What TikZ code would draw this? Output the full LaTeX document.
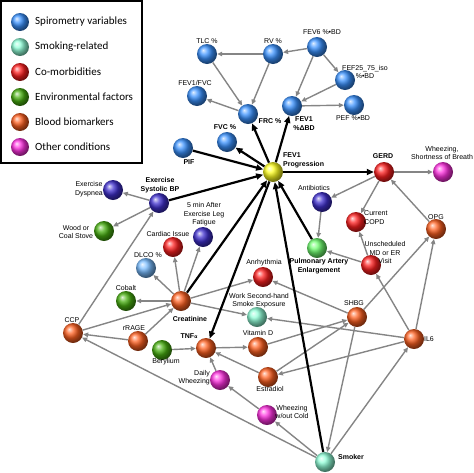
\documentclass[tikz,border=0pt]{standalone}
\usepackage{fontspec}
\setmainfont{Liberation Sans}
\newfontfamily\legfont{Carlito}
\usetikzlibrary{arrows.meta}

\definecolor{spiro}{HTML}{3A92FF}
\definecolor{smokec}{HTML}{90FFD8}
\definecolor{comorb}{HTML}{FF2020}
\definecolor{envir}{HTML}{48B010}
\definecolor{blood}{HTML}{FF6020}
\definecolor{other}{HTML}{FF30E0}
\definecolor{exer}{HTML}{4030D0}
\definecolor{progc}{HTML}{FFFF20}
\definecolor{pulm}{HTML}{70FF70}
\definecolor{dlcoc}{HTML}{78BCFF}
\definecolor{midgray}{HTML}{858585}

\begin{document}
\begin{tikzpicture}[x=1pt,y=-1pt,
  ball/.style={circle,minimum size=20pt,inner sep=0pt,ball color=#1},
  legball/.style={circle,minimum size=18pt,inner sep=0pt,ball color=#1},
  lab/.style={font=\fontsize{7}{8.5}\selectfont,align=center,inner sep=0pt},
  blab/.style={lab,font=\fontsize{7}{8.5}\selectfont\bfseries},
  legtext/.style={font=\legfont\fontsize{11}{13}\selectfont,anchor=west,inner sep=0pt},
  grayedge/.style={draw=midgray,line width=1.4pt,-{Triangle[length=5pt,width=4.5pt]}},
  blackedge/.style={draw=black,line width=2.2pt,-{Triangle[length=7pt,width=6pt]}}]
 \useasboundingbox (0,0) rectangle (474,472);

 % legend
 \draw[line width=1.6pt] (1,1) rectangle (142,163);
 \foreach \c/\t [count=\i] in {spiro/Spirometry variables, smokec/Smoking-related,
     comorb/Co-morbidities, envir/Environmental factors, blood/Blood biomarkers,
     other/Other conditions}
   {\node[legball=\c] (leg\i) at (20,{22+25*(\i-1)}) {};
    \node[legtext] (legt\i) at (35,{22+25*(\i-1)}) {\t};}

 % spirometry
 \node[ball=spiro] (tlc) at (207,54) {};
 \node[lab] (tlct) at (207,41) {TLC \%};
 \node[ball=spiro] (rv) at (273,54) {};
 \node[lab] (rvt) at (273,41) {RV \%};
 \node[ball=spiro] (fevsix) at (317,47) {};
 \node[lab] (fevsixt) at (322,32) {FEV6 \%•BD};
 \node[ball=spiro] (fef) at (345,80) {};
 \node[lab] (feft) at (365,72) {FEF25\_75\_iso\\\%•BD};
 \node[ball=spiro] (pef) at (354,105) {};
 \node[lab] (peft) at (353,118) {PEF \%•BD};
 \node[ball=spiro] (fevfvc) at (197,96) {};
 \node[lab] (fevfvct) at (195,83) {FEV1/FVC};
 \node[ball=spiro] (frc) at (248,114) {};
 \node[blab] (frct) at (270,121) {FRC \%};
 \node[ball=spiro] (fevbd) at (292,106) {};
 \node[blab] (fevbdt) at (304,123.5) {FEV1\\\%ΔBD};
 \node[ball=spiro] (fvc) at (227,142) {};
 \node[blab] (fvct) at (225,127) {FVC \%};
 \node[ball=spiro] (pif) at (183,148) {};
 \node[blab] (pift) at (189,162) {PIF};
 \node[ball=dlcoc] (dlco) at (146,268) {};
 \node[lab] (dlcot) at (148,255) {DLCO \%};

 % outcome
 \node[ball=progc] (prog) at (273,172) {};
 \node[blab,align=left,anchor=west] (progt) at (283,160.5) {FEV1\\Progression};

 % co-morbidities and others
 \node[ball=comorb] (gerd) at (384,172) {};
 \node[blab] (gerdt) at (383,156) {GERD};
 \node[ball=other] (wsob) at (443,172) {};
 \node[lab] (wsobt) at (442,153) {Wheezing,\\Shortness of Breath};
 \node[ball=exer] (anti) at (322,202) {};
 \node[lab] (antit) at (314,188) {Antibiotics};
 \node[ball=comorb] (copd) at (356,222) {};
 \node[lab,align=left,anchor=west] (copdt) at (364,217.5) {Current\\COPD};
 \node[ball=comorb] (unsch) at (371,265) {};
 \node[lab] (unscht) at (385,252.5) {Unscheduled\\MD or ER\\Visit};
 \node[ball=pulm] (pae) at (317,248) {};
 \node[blab] (paet) at (319,266) {Pulmonary Artery\\Enlargement};
 \node[ball=exer] (sysbp) at (159,203) {};
 \node[blab] (sysbpt) at (160,185) {Exercise\\Systolic BP};
 \node[ball=exer] (dysp) at (113,190) {};
 \node[lab] (dyspt) at (89,189) {Exercise\\Dyspnea};
 \node[ball=envir] (wood) at (104,231) {};
 \node[lab] (woodt) at (76,232) {Wood or\\Coal Stove};
 \node[ball=exer] (fatig) at (203,237) {};
 \node[lab] (fatigt) at (204,214.5) {5 min After\\Exercise Leg\\Fatigue};
 \node[ball=comorb] (cardiac) at (173,247) {};
 \node[lab] (cardiact) at (168,234) {Cardiac Issue};
 \node[ball=comorb] (anrh) at (263,277) {};
 \node[lab] (anrht) at (264,263) {Anrhythmia};
 \node[ball=smokec] (wse) at (257,317) {};
 \node[lab] (wset) at (259,300.5) {Work Second-hand\\Smoke Exposure};
 \node[ball=other] (daily) at (220,380) {};
 \node[lab,align=right,anchor=east] (dailyt) at (210,377.5) {Daily\\Wheezing};
 \node[ball=other] (wwc) at (267,415) {};
 \node[lab] (wwct) at (292,412) {Wheezing\\w/out Cold};
 \node[ball=smokec] (smoker) at (325,462) {};
 \node[blab] (smokert) at (351,457) {Smoker};

 % environment and biomarkers
 \node[ball=envir] (cobalt) at (126,301) {};
 \node[lab] (cobaltt) at (126,288) {Cobalt};
 \node[ball=envir] (beryl) at (162,350) {};
 \node[lab] (berylt) at (166,362) {Berylium};
 \node[ball=blood] (creat) at (181,301) {};
 \node[blab] (creatt) at (190,319) {Creatinine};
 \node[ball=blood] (rrage) at (138,341) {};
 \node[lab] (rraget) at (134,328) {rRAGE};
 \node[ball=blood] (ccp) at (73,333) {};
 \node[lab] (ccpt) at (72,320) {CCP};
 \node[ball=blood] (tnf) at (206,348) {};
 \node[blab] (tnft) at (189,336) {TNF{\fontsize{5}{6}\selectfont α}};
 \node[ball=blood] (vitd) at (258,347) {};
 \node[lab] (vitdt) at (258,333) {Vitamin D};
 \node[ball=blood] (estr) at (268,377) {};
 \node[lab] (estrt) at (270,389) {Estradiol};
 \node[ball=blood] (shbg) at (357,317) {};
 \node[lab] (shbgt) at (354,303) {SHBG};
 \node[ball=blood] (il) at (414,339) {};
 \node[lab] (ilt) at (429,339) {IL6};
 \node[ball=blood] (opg) at (436,229) {};
 \node[lab] (opgt) at (436,217) {OPG};

 % connectors
 \foreach \a/\b in {rv/tlc, fevsix/rv, tlc/frc, rv/frc, frc/fevfvc, fevsix/fevbd,
     fevsix/fef, fef/fevbd, fevbd/pef, gerd/wsob, gerd/anti, gerd/copd, opg/gerd,
     anti/pae, unsch/copd, unsch/pae, il/unsch, il/opg, shbg/opg, shbg/anrh,
     creat/anrh, il/wse, creat/wse, vitd/shbg, estr/shbg, il/estr, beryl/tnf,
     tnf/vitd, estr/tnf, daily/tnf, wwc/daily, smoker/wwc, smoker/ccp,
     shbg/smoker, smoker/il, creat/cobalt, creat/dlco, creat/cardiac,
     creat/fatig, ccp/creat, rrage/ccp, rrage/creat, ccp/sysbp, sysbp/dysp,
     sysbp/wood}
   \draw[grayedge] (\a) -- (\b);
 \foreach \a/\b in {prog/frc, prog/fevbd, prog/fvc, pif/prog, sysbp/prog,
     prog/gerd, creat/prog, prog/tnf, smoker/prog, pae/prog}
   \draw[blackedge] (\a) -- (\b);
\end{tikzpicture}
\end{document}
